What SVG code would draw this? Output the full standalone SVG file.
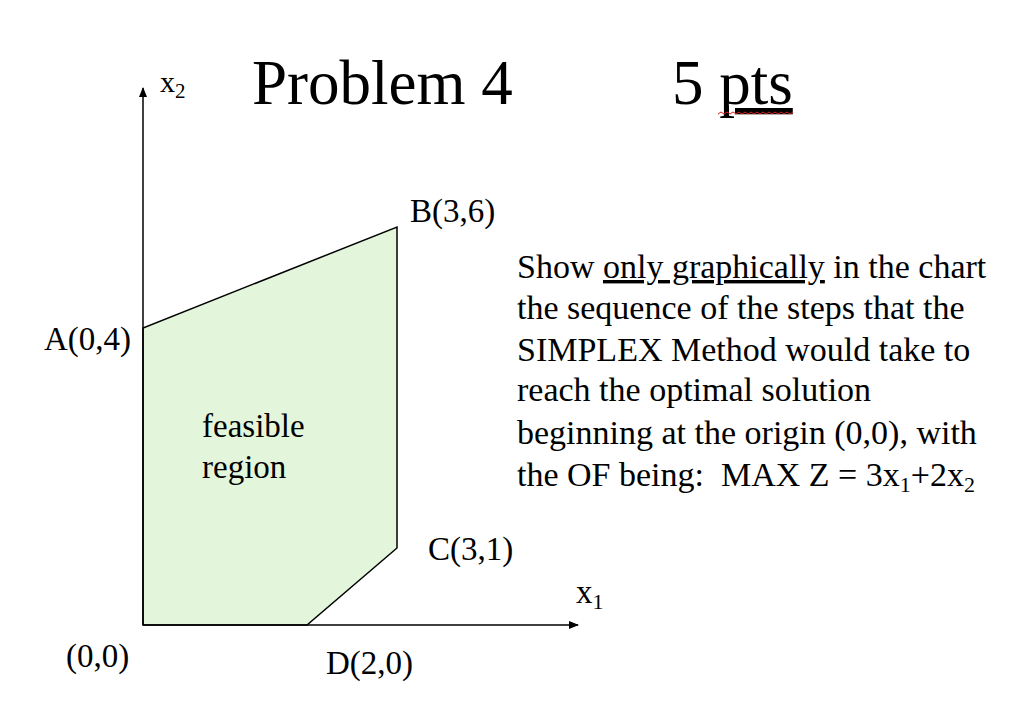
<svg xmlns="http://www.w3.org/2000/svg" width="1024" height="711" viewBox="0 0 1024 711">
<style>
text{font-family:"Liberation Serif","Times New Roman",serif;fill:#000}
.l{font-size:33px}
.p{font-size:34px}
.t{font-size:63px}
</style>
<defs>
<marker id="ah" markerWidth="10" markerHeight="8" refX="9" refY="4" orient="auto" markerUnits="userSpaceOnUse"><path d="M0,0 L10,4 L0,8 Z" fill="#000"/></marker>
</defs>
<rect width="1024" height="711" fill="#fff"/>
<g id="region"><polygon points="143,625 143,328 397,227 397,548 307,625" fill="#e3f6dc" stroke="#000" stroke-width="1.5"/></g>
<g id="axes" stroke="#000" stroke-width="1.5">
<line x1="143" y1="625" x2="143" y2="88" marker-end="url(#ah)"/>
<line x1="143" y1="625" x2="578" y2="625" marker-end="url(#ah)"/>
</g>
<text x="160" y="92" font-size="30">x<tspan font-size="21" dy="6">2</tspan></text>
<text class="t" x="252" y="104">Problem 4</text>
<text class="t" x="672" y="104">5 <tspan text-decoration="underline">pts</tspan></text>
<path d="M718,114 l3,-2 3,2 3,-2 3,2 3,-2 3,2 3,-2 3,2 3,-2 3,2 3,-2 3,2 3,-2 3,2 3,-2 3,2 3,-2 3,2 3,-2 3,2 3,-2 3,2 3,-2 3,2 3,-2" fill="none" stroke="#d22" stroke-width="1"/>
<text class="l" x="410" y="222">B(3,6)</text>
<text class="l" x="44" y="350">A(0,4)</text>
<text class="l" x="202" y="437">feasible</text>
<text class="l" x="202" y="478">region</text>
<text class="l" x="428" y="560">C(3,1)</text>
<text class="l" x="576" y="603">x<tspan font-size="22" dy="6">1</tspan></text>
<text class="l" x="66" y="667">(0,0)</text>
<text class="l" x="326" y="674">D(2,0)</text>
<g>
<text class="p" x="517" y="278">Show <tspan text-decoration="underline">only graphically</tspan> in the chart</text>
<text class="p" x="517" y="319">the sequence of the steps that the</text>
<text class="p" x="517" y="361">SIMPLEX Method would take to</text>
<text class="p" x="517" y="401">reach the optimal solution</text>
<text class="p" x="517" y="444">beginning at the origin (0,0), with</text>
<text class="p" x="517" y="486" xml:space="preserve">the OF being:  MAX Z = 3x<tspan font-size="22" dy="6">1</tspan><tspan dy="-6">+2x</tspan><tspan font-size="22" dy="6">2</tspan></text>
</g>
</svg>
